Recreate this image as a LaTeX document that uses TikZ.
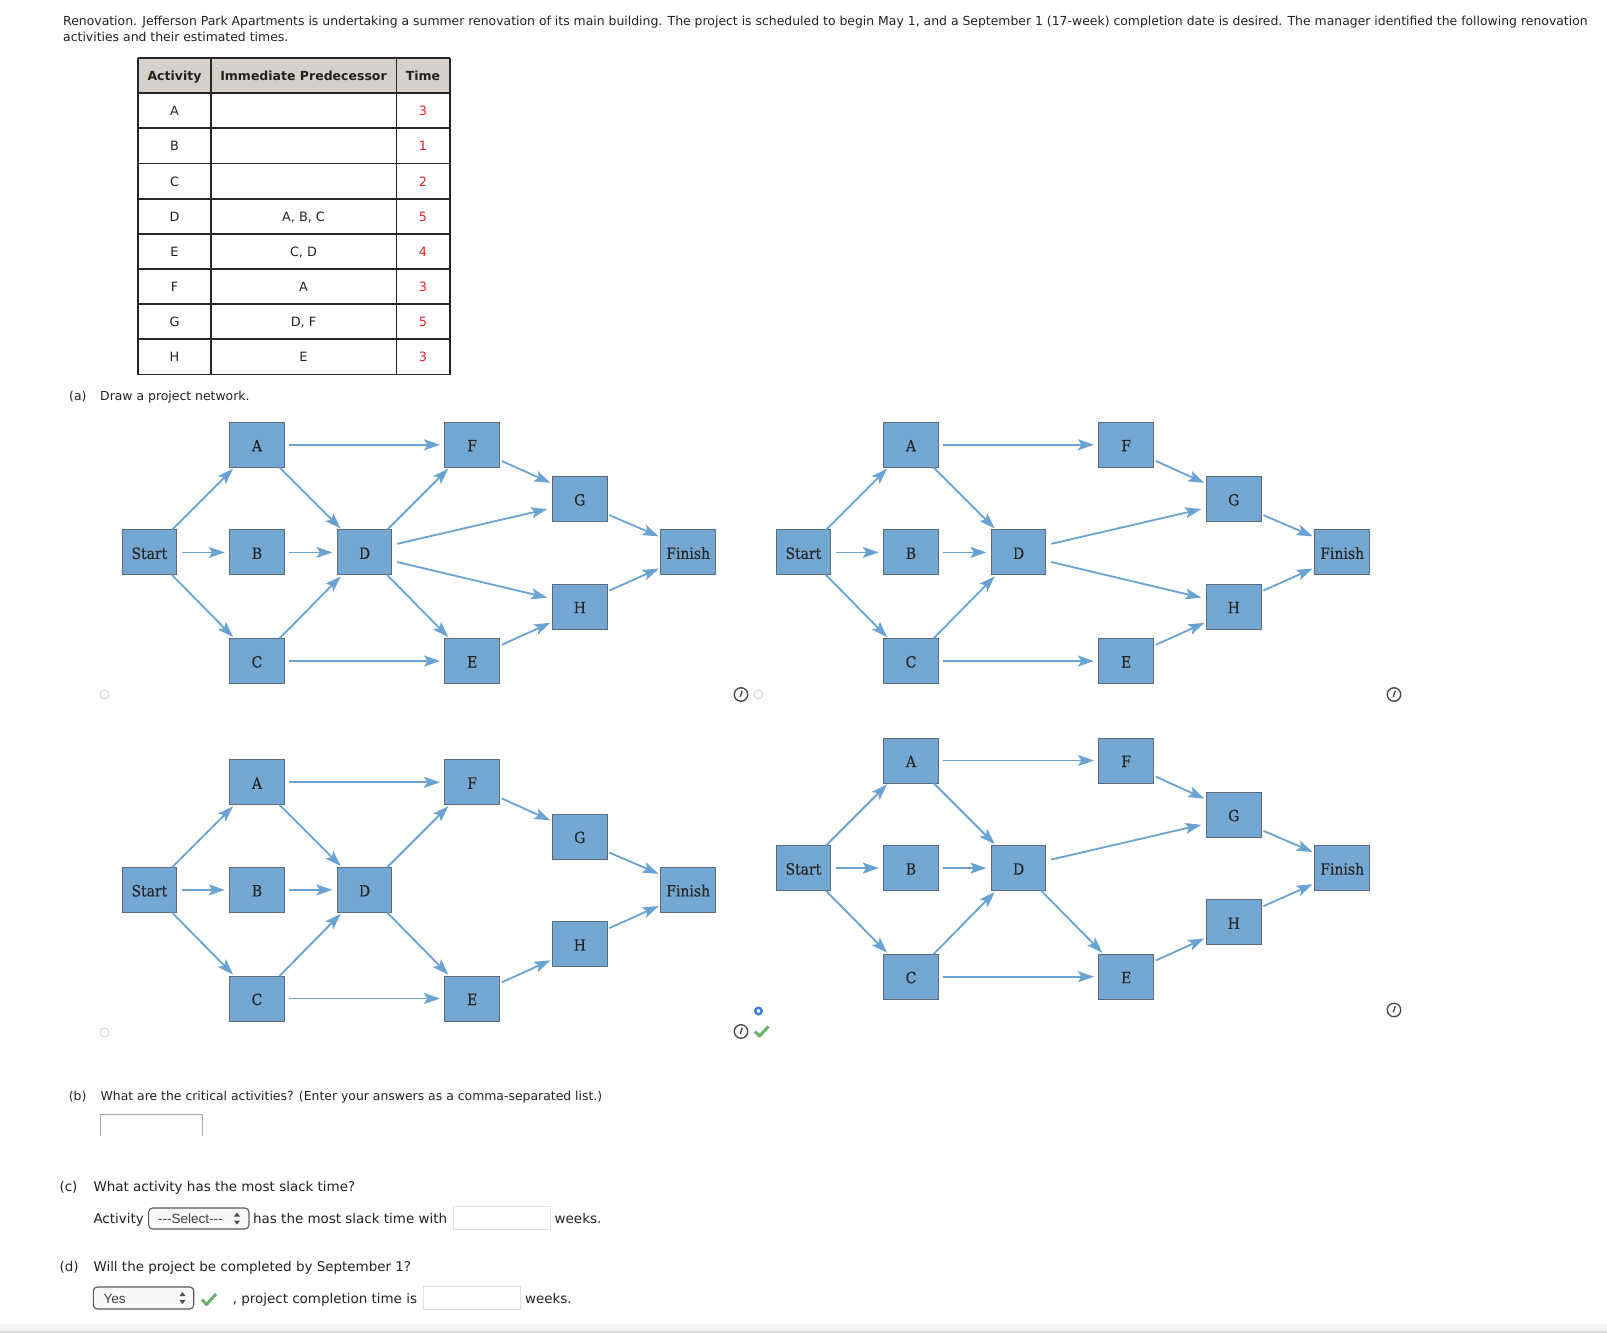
\documentclass[tikz,border=0pt]{standalone}
\usepackage{fontspec}
\setmainfont{DejaVu Sans}
\newfontfamily\netfont[FakeBold=0.3]{DejaVu Serif Condensed}
\newfontfamily\uifont{Liberation Sans}
\usetikzlibrary{arrows.meta}
\definecolor{boxfill}{HTML}{74A7D2}
\definecolor{boxline}{HTML}{5B6B7A}
\definecolor{flowc}{HTML}{6AA2D2}
\definecolor{headfill}{HTML}{D5D0C8}
\definecolor{txtc}{HTML}{222222}
\definecolor{redc}{HTML}{EE2222}
\definecolor{okc}{HTML}{6DB06B}
\definecolor{bluec}{HTML}{3B7BF0}
\tikzset{
  x=1pt,y=-1pt,
  netbox/.style={draw=boxline,fill=boxfill,line width=1pt,minimum width=54.5pt,minimum height=45pt,inner sep=0pt,outer sep=0pt,text height=13pt,text depth=0pt,font=\netfont\fontsize{15.5}{15.5}\selectfont,text=black!85},
  flow/.style={draw=flowc,line width=1.8pt,-{Stealth[length=16pt,width=11pt,inset=3.5pt]}},
  txt/.style={anchor=base west,inner sep=0pt,font=\fontsize{12.42}{15}\selectfont,text=txtc},
  txtb/.style={anchor=base west,inner sep=0pt,font=\fontsize{13.45}{15}\selectfont,text=txtc},
  cellt/.style={anchor=base,inner sep=0pt,font=\fontsize{12.8}{14}\selectfont,text=txtc},
  headt/.style={anchor=base,inner sep=0pt,font=\bfseries\fontsize{12.5}{14}\selectfont,text=txtc},
  gridl/.style={draw=black!85,line width=1.2pt},
  radio/.style={draw=black!20,line width=.8pt,fill=white},
  clockic/.style={draw=black!70,line width=1.4pt},
  okmark/.style={draw=okc,line width=3pt,line join=round},
  selbox/.style={draw=black!65,line width=1.1pt,rounded corners=4pt,fill=black!3},
  inbox/.style={draw=black!12,line width=.8pt},
  uit/.style={anchor=base west,inner sep=0pt,font=\uifont\fontsize{13.5}{14}\selectfont,text=black!75},
}
\newcommand{\netnodes}[3]{%
  \begin{scope}[shift={(#2,#3)}]
    \node[netbox] (#1S) at (149.4,552.4) {Start};
    \node[netbox] (#1A) at (257,444.8) {A};
    \node[netbox] (#1B) at (257,552.4) {B};
    \node[netbox] (#1C) at (257,661) {C};
    \node[netbox] (#1D) at (364.6,552.4) {D};
    \node[netbox] (#1F) at (472.2,444.8) {F};
    \node[netbox] (#1E) at (472.2,661) {E};
    \node[netbox] (#1G) at (579.8,499) {G};
    \node[netbox] (#1H) at (579.8,606.7) {H};
    \node[netbox] (#1Z) at (688.2,552.4) {Finish};
  \end{scope}
  \draw[flow,shorten >=2pt] (#1S.45) -- (#1A.225);
  \draw[flow,shorten >=5pt,shorten <=5pt] (#1S.east) -- (#1B.west);
  \draw[flow,shorten >=2pt] (#1S.-45) -- (#1C.135);
  \draw[flow,shorten >=2pt] (#1A.-45) -- (#1D.135);
  \draw[flow,shorten >=5pt,shorten <=5pt] (#1B.east) -- (#1D.west);
  \draw[flow,shorten >=2pt] (#1C.45) -- (#1D.225);
  \draw[flow,shorten >=5pt,shorten <=5pt] (#1A.east) -- (#1F.west);
  \draw[flow,shorten >=5pt,shorten <=5pt] (#1C.east) -- (#1E.west);
  \draw[flow,shorten >=2.5pt,shorten <=2.5pt] (#1F.-29) -- (#1G.151);
  \draw[flow,shorten >=2.5pt,shorten <=2.5pt] (#1G.-29) -- (#1Z.151);
  \draw[flow,shorten >=2.5pt,shorten <=2.5pt] (#1E.29) -- (#1H.209);
  \draw[flow,shorten >=2.5pt,shorten <=2.5pt] (#1H.29) -- (#1Z.209);
}
\newcommand{\edDF}[1]{\draw[flow,shorten >=2pt] (#1D.45) -- (#1F.225);}
\newcommand{\edDE}[1]{\draw[flow,shorten >=2pt] (#1D.-45) -- (#1E.135);}
\newcommand{\edDG}[1]{\draw[flow,shorten >=5.5pt,shorten <=5.5pt] (#1D.15) -- (#1G.198);}
\newcommand{\edDH}[1]{\draw[flow,shorten >=5.5pt,shorten <=5.5pt] (#1D.-17) -- (#1H.164);}
\newcommand{\clockicon}[3]{%
  \node[circle,clockic,minimum size=13.5pt,inner sep=0pt] (#1) at (#2,#3) {};
  \draw[clockic] ([shift={(1.2,-3.8)}]#1.center) -- ([shift={(-.8,2.5)}]#1.center);
}
\begin{document}
\begin{tikzpicture}
\useasboundingbox (0,0) rectangle (1607,1333);
\fill[white] (0,0) rectangle (1607,1333);
\fill[black!4] (0,1324) rectangle (1607,1331);
\fill[black!14] (0,1331) rectangle (1607,1333);

\node[txt] (intro1) at (63,25) {Renovation. Jefferson Park Apartments is undertaking a summer renovation of its main building. The project is scheduled to begin May 1, and a September 1 (17-week) completion date is desired. The manager identified the following renovation};
\node[txt] (intro2) at (63,41.3) {activities and their estimated times.};

% table
\fill[headfill] (138,58) rectangle (450,93);
\foreach \yy in {58,93,128,163.5,199,234,269,304,339,374.5} \draw[gridl] (138,\yy) -- (450,\yy);
\foreach \xx in {138,211,396.5,450} \draw[gridl] (\xx,58) -- (\xx,374.5);
\node[headt] (h1) at (174.5,80) {Activity};
\node[headt] (h2) at (303.5,80) {Immediate Predecessor};
\node[headt] (h3) at (423,80) {Time};
\foreach \nm/\yy/\ac/\pr/\ti in {1/115.5/A//3,2/150.5/B//1,3/186/C//2,4/221.5/D/{A, B, C}/5,5/256.5/E/{C, D}/4,6/291.5/F/A/3,7/326.5/G/{D, F}/5,8/361.5/H/E/3}{
  \node[cellt] (ca\nm) at (174.5,\yy) {\ac};
  \node[cellt] (cp\nm) at (303.5,\yy) {\pr};
  \node[cellt,text=redc] (ct\nm) at (423,\yy) {\ti};
}

\node[txt] (pa) at (69,400.5) {(a)};
\node[txt] (qa) at (100,400.5) {Draw a project network.};

% networks
\netnodes{p}{0}{0}
\edDF{p}\edDE{p}\edDG{p}\edDH{p}
\netnodes{q}{654}{0}
\edDG{q}\edDH{q}
\netnodes{r}{0}{337.5}
\edDF{r}\edDE{r}
\netnodes{s}{654}{315.7}
\edDG{s}\edDE{s}

% radios and icons
\node[circle,radio,minimum size=9pt,inner sep=0pt] (r1) at (104.5,694.5) {};
\node[circle,radio,minimum size=9pt,inner sep=0pt] (r2) at (758.5,694.5) {};
\node[circle,radio,minimum size=9pt,inner sep=0pt] (r3) at (104.5,1032.5) {};
\node[circle,draw=bluec,line width=2.4pt,fill=white,minimum size=6.5pt,inner sep=0pt] (r4) at (758.5,1011) {};
\clockicon{c1}{741}{694.5}
\clockicon{c2}{1394}{694.5}
\clockicon{c3}{741}{1031.5}
\clockicon{c4}{1394}{1010}
\draw[okmark] (755,1031.5) -- (759.5,1036) -- (768.5,1026.5);

% part b
\node[txt] (pb) at (68.7,1100.5) {(b)};
\node[txt] (qb) at (100.4,1100.5) {What are the critical activities? (Enter your answers as a comma-separated list.)};
\draw[draw=black!35,line width=1pt] (100.4,1135.6) -- (100.4,1114) -- (202,1114) -- (202,1135.6);

% part c
\node[txtb] (pc) at (59.4,1191) {(c)};
\node[txtb] (qc) at (93.3,1191) {What activity has the most slack time?};
\node[txtb] (ac) at (93.3,1223.3) {Activity};
\draw[selbox] (148.6,1208) rectangle (249,1229);
\node[uit] (sel) at (158,1223.3) {---Select---};
\fill[black!70] (234,1216.5) -- (237,1212.5) -- (240,1216.5) -- cycle;
\fill[black!70] (234,1220.5) -- (237,1224.5) -- (240,1220.5) -- cycle;
\node[txtb] (hc) at (253,1223.3) {has the most slack time with};
\draw[inbox] (453,1206) rectangle (550.4,1229);
\node[txtb] (wc) at (554.5,1223.3) {weeks.};

% part d
\node[txtb] (pd) at (59.4,1271) {(d)};
\node[txtb] (qd) at (93.3,1271) {Will the project be completed by September 1?};
\draw[selbox] (93.3,1287) rectangle (193.7,1309);
\node[uit] (yes) at (103.5,1303) {Yes};
\fill[black!70] (179.5,1296) -- (182.5,1292) -- (185.5,1296) -- cycle;
\fill[black!70] (179.5,1300) -- (182.5,1304) -- (185.5,1300) -- cycle;
\draw[okmark] (202,1299.5) -- (206.5,1304.5) -- (216,1294);
\node[txtb] (cd) at (232.6,1303) {, project completion time is};
\draw[inbox] (423,1286) rectangle (520,1309);
\node[txtb] (wd) at (524.8,1303) {weeks.};
\end{tikzpicture}
\end{document}
